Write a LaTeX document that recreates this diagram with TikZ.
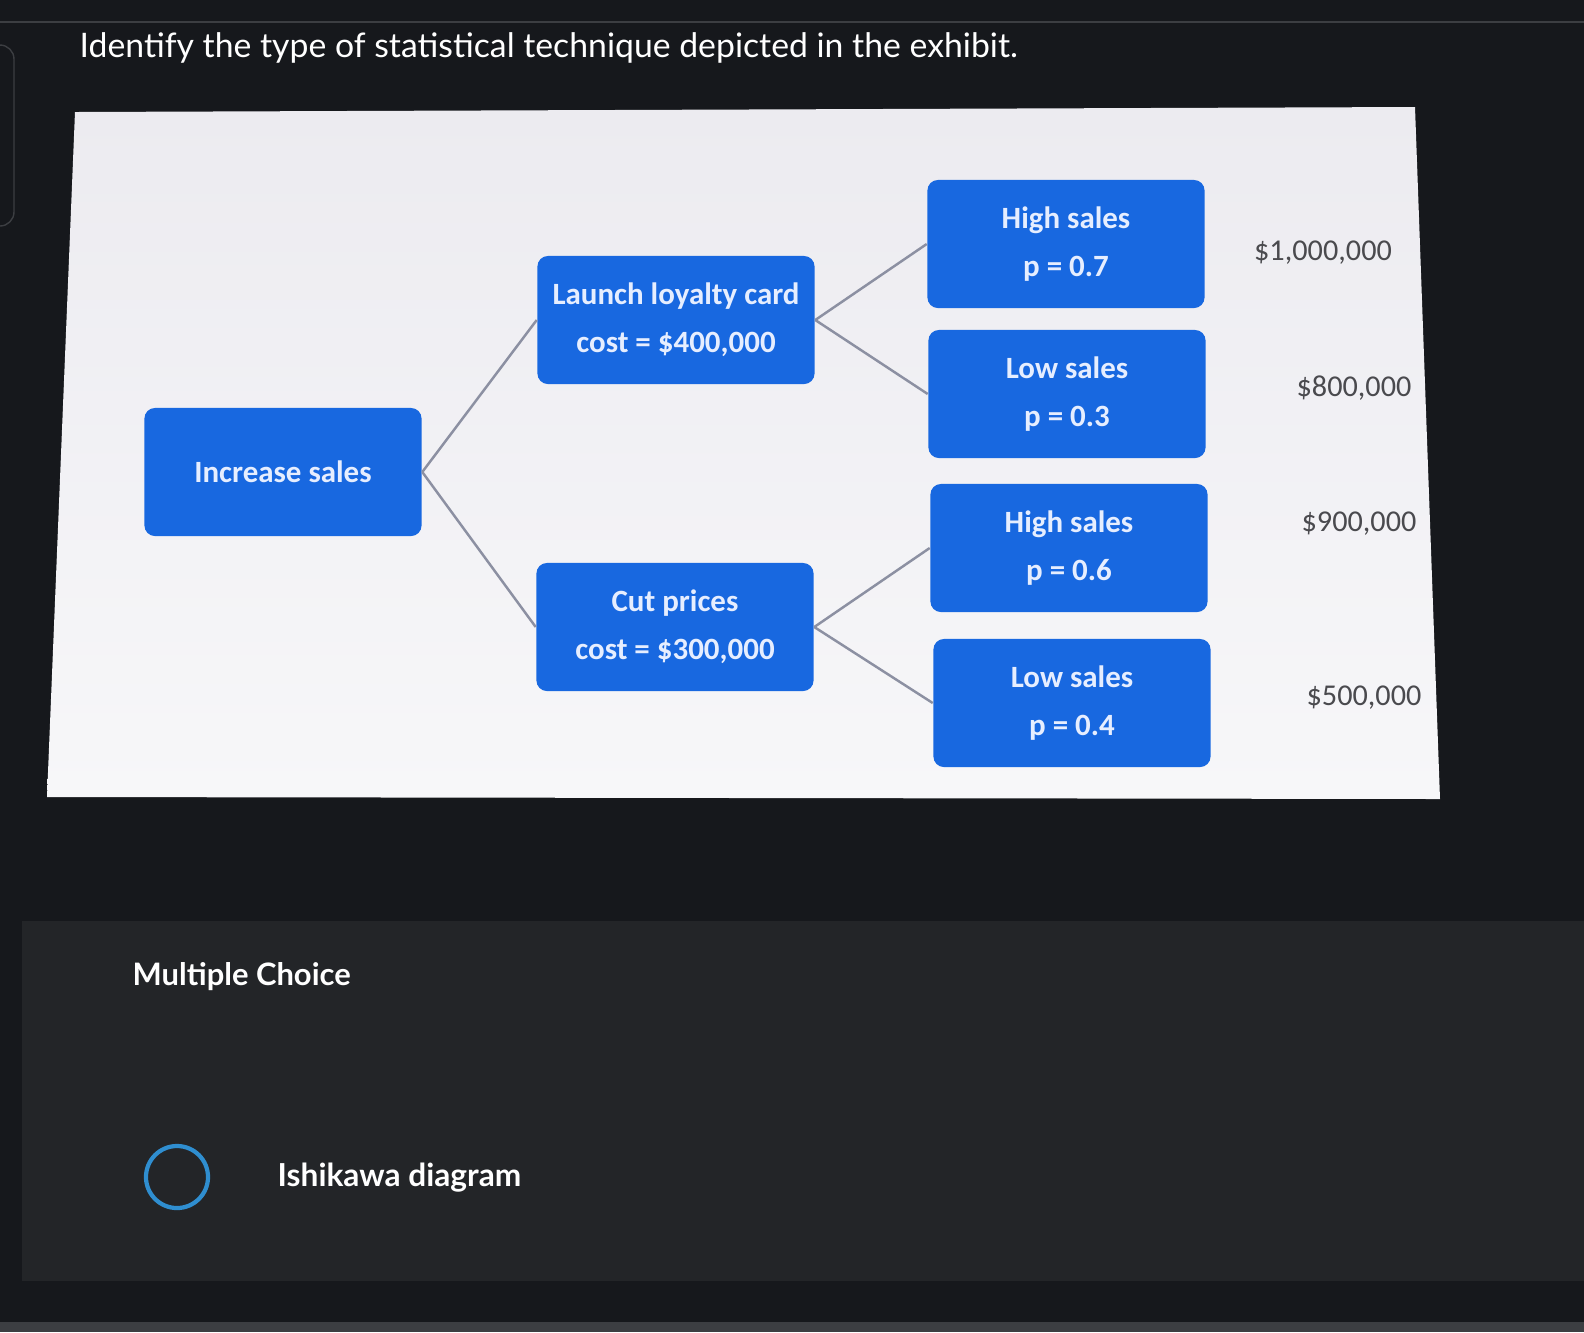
\documentclass[tikz,border=0pt]{standalone}
\usepackage{fontspec}
\setmainfont{Lato}
\newfontfamily\calibri{Carlito}
\definecolor{screen}{HTML}{16181C}
\definecolor{card}{HTML}{232528}
\definecolor{rulegray}{HTML}{3C3E42}
\definecolor{paper}{HTML}{ECEBF0}
\definecolor{paperlow}{HTML}{F7F7F9}
\definecolor{boxblue}{HTML}{1868E0}
\definecolor{boxtext}{HTML}{E6EEFF}
\definecolor{linegray}{HTML}{8C90A2}
\definecolor{paygray}{HTML}{4A4A4E}
\definecolor{radioblue}{HTML}{2F8ED0}

\begin{document}
\begin{tikzpicture}[
  x=0.01cm, y=-0.01cm,
  outcome/.style={fill=boxblue, rounded corners=3pt, inner sep=0pt,
    minimum width=2.77cm, minimum height=1.28cm, align=center,
    text=boxtext, font=\calibri\bfseries\fontsize{8.8}{13.7}\selectfont},
  branch/.style={draw=linegray, line width=0.7pt},
  payoff/.style={text=paygray, font=\calibri\fontsize{8.6}{10}\selectfont},
  screentext/.style={text=white, anchor=west, inner sep=0pt},
]
\useasboundingbox (0,0) rectangle (1584,1332);
\fill[screen] (0,0) rectangle (1584,1332);
\draw[rulegray] (0,22) -- (1584,22);
\draw[rulegray, rounded corners=4pt] (-10,45) -- (14,45) -- (14,226) -- (-10,226);

\node[screentext, font=\fontsize{9.6}{12}\selectfont] (question) at (79,48)
  {Identify the type of statistical technique depicted in the exhibit.};

% exhibit
\shade[top color=paper, bottom color=paperlow]
  (75,112) -- (1415,107) -- (1440,799) -- (47,797) -- cycle;

\node[outcome] (increase) at (283,472) {Increase sales};
\node[outcome] (loyalty) at (676,320) {Launch loyalty card\\cost = \$400,000};
\node[outcome] (cut) at (675,627) {Cut prices\\cost = \$300,000};
\node[outcome] (high1) at (1066,244) {High sales\\p = 0.7};
\node[outcome] (low1) at (1067,394) {Low sales\\p = 0.3};
\node[outcome] (high2) at (1069,548) {High sales\\p = 0.6};
\node[outcome] (low2) at (1072,703) {Low sales\\p = 0.4};

\draw[branch] (increase.east) -- (loyalty.west);
\draw[branch] (increase.east) -- (cut.west);
\draw[branch] (loyalty.east) -- (high1.west);
\draw[branch] (loyalty.east) -- (low1.west);
\draw[branch] (cut.east) -- (high2.west);
\draw[branch] (cut.east) -- (low2.west);

\node[payoff] (pay1) at (1323,253) {\$1,000,000};
\node[payoff] (pay2) at (1354,388) {\$800,000};
\node[payoff] (pay3) at (1359,524) {\$900,000};
\node[payoff] (pay4) at (1364,698) {\$500,000};

% answer card
\fill[card] (22,921) rectangle (1584,1281);
\fill[rulegray] (0,1322) rectangle (1584,1332);
\node[screentext, font=\bfseries\fontsize{8.8}{12}\selectfont] (choice) at (132,977)
  {Multiple Choice};
\node[draw=radioblue, circle, line width=1.2pt, minimum size=0.62cm] (radio) at (177,1177) {};
\node[screentext, font=\bfseries\fontsize{9}{12}\selectfont] (answer) at (277,1178)
  {Ishikawa diagram};
\end{tikzpicture}
\end{document}
